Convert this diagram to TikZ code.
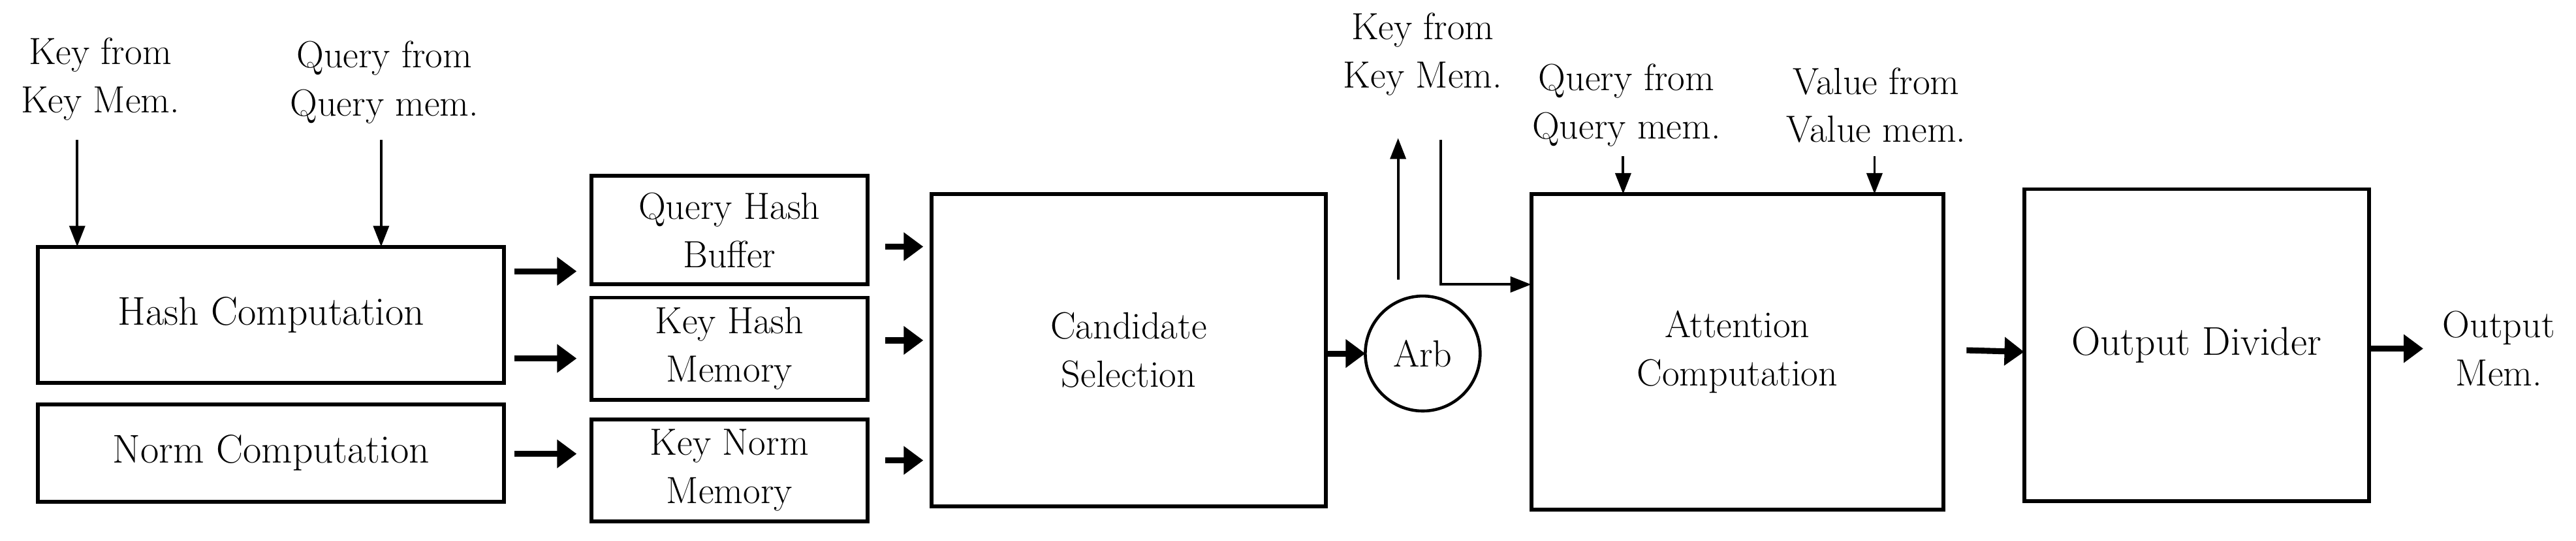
\documentclass[tikz,border=0pt]{standalone}
\usetikzlibrary{arrows.meta}
\begin{document}
\begin{tikzpicture}[x=0.02517cm,y=-0.02517cm,
 box/.style={draw,line width=1.7pt,inner sep=0pt,outer sep=0pt,align=center,font=\fontsize{16.5}{21}\selectfont},
 lbl/.style={align=center,inner sep=0pt,font=\fontsize{16.5}{21}\selectfont},
 fat/.style={line width=2.6pt,-{Triangle[length=0.3cm,width=0.42cm]}},
 thin/.style={line width=1.1pt,-{Triangle[length=0.32cm,width=0.24cm]}}]
\useasboundingbox (0,0) rectangle (1568,329);
\node[box,minimum width=7.148cm,minimum height=2.089cm,font=\fontsize{17.5}{21}\selectfont] (hash) at (165,191.5) {Hash Computation};
\node[box,minimum width=7.148cm,minimum height=1.485cm,font=\fontsize{17.5}{21}\selectfont] (norm) at (165,275.5) {Norm Computation};
\node[box,minimum width=4.229cm,minimum height=1.661cm] (qhb) at (444,140) {Query Hash\\Buffer};
\node[box,minimum width=4.229cm,minimum height=1.561cm] (khm) at (444,212) {Key Hash\\Memory};
\node[box,minimum width=4.229cm,minimum height=1.561cm] (knm) at (444,286) {Key Norm\\Memory};
\node[box,minimum width=6.041cm,minimum height=4.782cm] (cand) at (687,213) {Candidate\\Selection};
\node[box,circle,line width=1.3pt,minimum size=1.76cm] (arb) at (866,215) {Arb};
\node[box,minimum width=6.318cm,minimum height=4.833cm] (att) at (1057.5,214) {Attention\\Computation};
\node[box,minimum width=5.286cm,minimum height=4.782cm,font=\fontsize{17.5}{21}\selectfont] (od) at (1337,210) {Output Divider};
\node[lbl] (k1) at (61,48) {Key from\\Key Mem.};
\node[lbl] (q1) at (234,50) {Query from\\Query mem.};
\node[lbl] (k2) at (866,33) {Key from\\Key Mem.};
\node[lbl] (q2) at (990,64) {Query from\\Query mem.};
\node[lbl] (v2) at (1142,64) {Value from\\Value mem.};
\node[lbl] (om) at (1521,212) {Output\\Mem.};
\draw[thin] (47,85) -- (47,150);
\draw[thin] (232,85) -- (232,150);
\draw[fat] (313,165) -- (351,165);
\draw[fat] (313,218) -- (351,218);
\draw[fat] (313,276) -- (351,276);
\draw[fat] (539,150) -- (562,150);
\draw[fat] (539,207) -- (562,207);
\draw[fat] (539,280) -- (562,280);
\draw[fat] (cand.east |- arb) -- (arb.west);
\draw[thin] (851,170) -- (851,84);
\draw[thin] (877,85) -- (877,173) -- (att.west |- 0,173);
\draw[thin] (988,95) -- (988,118);
\draw[thin] (1141,95) -- (1141,118);
\draw[fat] (1197,213) -- (att.east -| od.west);
\draw[fat] (od.east |- 0,212) -- (1475,212);
\end{tikzpicture}
\end{document}
